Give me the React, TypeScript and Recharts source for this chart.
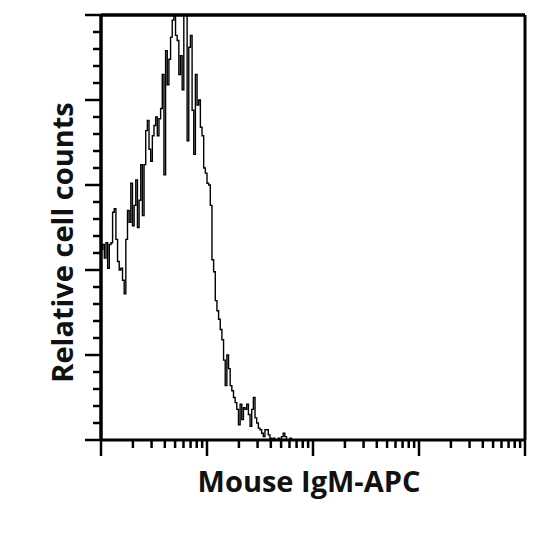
import React from "react";
import { LineChart, Line, XAxis, YAxis, Label, ReferenceLine } from "recharts";

// histogram: 256 bins across 4 log decades (64 bins per decade)
const BINS_PER_DECADE = 64;
const DECADES = [1, 10, 100, 1000];
const MULTIPLIERS = [1, 2, 3, 4, 5, 6, 7, 8, 9];
const LAST_BIN = 256;

// counts per bin, starting at bin 0; bins after these are empty
const counts = [
  112, 115, 107, 116, 101, 115, 116, 134, 136, 118,
  105, 100, 101, 94, 86, 118, 135, 128, 151, 126,
  138, 153, 125, 141, 162, 132, 162, 182, 188, 171,
  164, 179, 185, 190, 179, 189, 195, 215, 156, 229,
  209, 224, 237, 247, 255, 238, 235, 215, 226, 206,
  258, 256, 176, 231, 238, 194, 168, 215, 197, 200,
  184, 179, 160, 157, 151, 150, 138, 106, 99, 82,
  76, 71, 65, 59, 47, 32, 50, 42, 32, 29,
  25, 22, 18, 9, 21, 12, 19, 18, 21, 15,
  8, 18, 25, 13, 10, 7, 6, 4, 2, 6,
  6, 3, 1, 0, 1, 0, 0, 1, 0, 2,
  4, 2, 0, 0, 1, 0, 0,
];

const Y_MAX = 250;
const yTicks = [0, 10, 20, 30, 40, 50, 60, 70, 80, 90, 100, 110, 120, 130, 140, 150, 160, 170, 180, 190, 200, 210, 220, 230, 240, 250];
const Y_MAJOR_STEP = 50;

const xTicks = [
  ...DECADES.flatMap((d) => MULTIPLIERS.map((m) => BINS_PER_DECADE * Math.log10(m * d))),
  LAST_BIN,
];

const data = [
  ...counts.map((c, i) => ({ bin: i, count: c })),
  { bin: LAST_BIN, count: 0 },
];

const FONT = "'Open Sans', 'DejaVu Sans', sans-serif";

// eslint-disable-next-line @typescript-eslint/no-explicit-any
function XTick({ x, y, payload }: any) {
  const v = payload.value;
  const major = Math.abs(v / BINS_PER_DECADE - Math.round(v / BINS_PER_DECADE)) < 1e-6;
  return <line x1={x} x2={x} y1={y} y2={y + (major ? 16 : 8)} stroke="#000" strokeWidth={2.5} />;
}

// eslint-disable-next-line @typescript-eslint/no-explicit-any
function YTick({ x, y, payload }: any) {
  const major = payload.value % Y_MAJOR_STEP === 0;
  return <line x1={x - (major ? 16 : 8)} x2={x} y1={y} y2={y} stroke="#000" strokeWidth={2.5} />;
}

// eslint-disable-next-line @typescript-eslint/no-explicit-any
function XTitle({ viewBox }: any) {
  const cx = viewBox.x + viewBox.width / 2 - 4;
  return (
    <text x={cx} y={viewBox.y + 52} textAnchor="middle" fontFamily={FONT} fontWeight={700} fontSize={29} fill="#111">
      Mouse IgM-APC
    </text>
  );
}

// eslint-disable-next-line @typescript-eslint/no-explicit-any
function YTitle({ viewBox }: any) {
  const cx = viewBox.x + 61;
  const cy = viewBox.y + viewBox.height / 2 + 15;
  return (
    <text
      x={cx}
      y={cy}
      textAnchor="middle"
      dominantBaseline="central"
      transform={`rotate(-90, ${cx}, ${cy})`}
      fontFamily={FONT}
      fontWeight={700}
      fontSize={29}
      fill="#111"
    >
      Relative cell counts
    </text>
  );
}

export default function App() {
  return (
    <div style={{ position: "absolute", left: 0, top: 0, width: 540, height: 540, background: "#fff" }}>
      <LineChart width={540} height={540} data={data} margin={{ top: 15, right: 15, bottom: 0, left: 0 }}>
        <XAxis
          xAxisId="bottom"
          dataKey="bin"
          type="number"
          domain={[0, LAST_BIN]}
          ticks={xTicks}
          interval={0}
          tickSize={0}
          tickMargin={0}
          tickLine={false}
          tick={<XTick />}
          axisLine={{ stroke: "#000", strokeWidth: 3 }}
          height={100}
          allowDataOverflow
        >
          <Label content={<XTitle />} />
        </XAxis>
        <YAxis
          yAxisId="left"
          type="number"
          domain={[0, Y_MAX]}
          ticks={yTicks}
          interval={0}
          tickSize={0}
          tickMargin={0}
          tickLine={false}
          tick={<YTick />}
          axisLine={{ stroke: "#000", strokeWidth: 3.5 }}
          width={101}
          allowDataOverflow
        >
          <Label content={<YTitle />} />
        </YAxis>
        <Line
          xAxisId="bottom"
          yAxisId="left"
          type="stepAfter"
          dataKey="count"
          stroke="#000"
          strokeWidth={1.4}
          dot={false}
          isAnimationActive={false}
        />
        {/* frame: top and right edges */}
        <ReferenceLine xAxisId="bottom" yAxisId="left" y={Y_MAX} stroke="#000" strokeWidth={3.5} ifOverflow="visible" />
        <ReferenceLine xAxisId="bottom" yAxisId="left" x={LAST_BIN} stroke="#000" strokeWidth={3} ifOverflow="visible" />
      </LineChart>
    </div>
  );
}
